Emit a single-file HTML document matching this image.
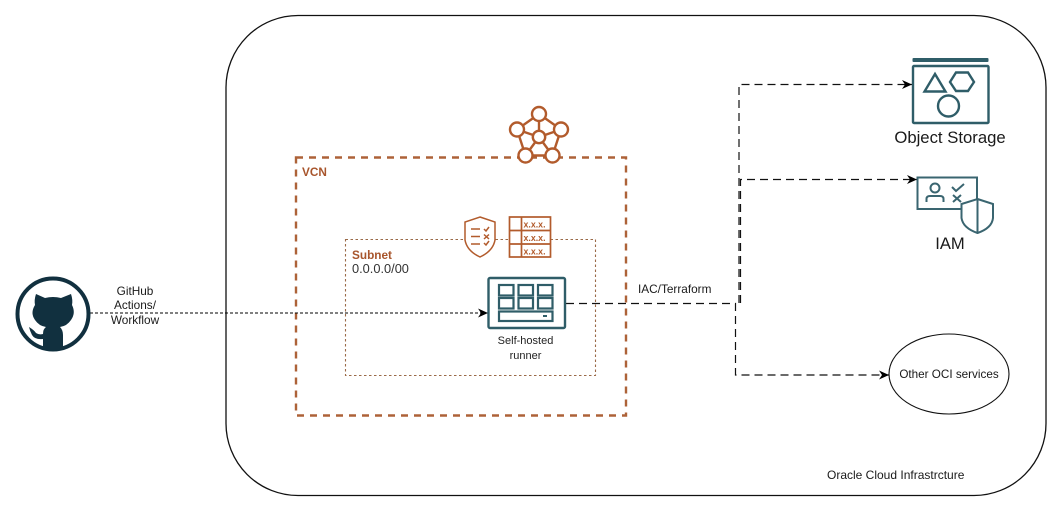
<!DOCTYPE html>
<html>
<head>
<meta charset="utf-8">
<style>
html,body{margin:0;padding:0;background:#fff;}
svg{display:block;}
text{font-family:"Liberation Sans",sans-serif;fill:#1a1a1a;}
</style>
</head>
<body>
<svg width="1061" height="511" viewBox="0 0 1061 511" xmlns="http://www.w3.org/2000/svg">
<defs>
<marker id="arr" markerWidth="12" markerHeight="12" refX="10" refY="6" orient="auto" markerUnits="userSpaceOnUse">
<path d="M0,1.500 L10,6 L0,10.500 L3,6 Z" fill="#000"/>
</marker>
</defs>
<rect width="1061" height="511" fill="#fff"/>

<!-- Outer cloud -->
<rect x="226" y="15.5" width="820" height="480" rx="72" ry="72" fill="none" stroke="#111" stroke-width="1.3"/>

<!-- VCN -->
<rect x="296" y="157.5" width="330" height="258" fill="none" stroke="#ad6238" stroke-width="2.4" stroke-dasharray="7 6"/>
<text x="302" y="176" font-size="11.800" font-weight="bold" style="fill:#a8552c">VCN</text>

<!-- Subnet -->
<rect x="345.5" y="239.5" width="250" height="136" fill="none" stroke="#9a6a48" stroke-width="1.100" stroke-dasharray="2.500 2.500"/>
<text x="352" y="259" font-size="11.800" font-weight="bold" style="fill:#a8552c">Subnet</text>
<text x="352" y="273" font-size="12.800" style="fill:#333">0.0.0.0/00</text>

<!-- VCN icon -->
<g fill="#fff" stroke="#b25b2c" stroke-width="2.400">
<path d="M539,114 L517,129.500 L525.500,155.500 L552.500,155.500 L561,129.500 Z M539,114 L539,137 M517,129.500 L539,137 M561,129.500 L539,137 M525.500,155.500 L539,137 M552.500,155.500 L539,137" fill="none"/>
<circle cx="539" cy="114" r="7"/>
<circle cx="517" cy="129.500" r="7"/>
<circle cx="561" cy="129.500" r="7"/>
<circle cx="525.500" cy="155.500" r="7"/>
<circle cx="552.500" cy="155.500" r="7"/>
<circle cx="539" cy="137" r="6.200"/>
</g>

<!-- Shield icon -->
<g fill="#fff" stroke="#b25b2c" stroke-width="1.500">
<path d="M480,217 L495,222 L495,240 Q493,251 480,257 Q467,251 465,240 L465,222 Z"/>
<path d="M471,229 H480 M471,236.500 H480 M471,244 H480 M484,229 L486,231 L489,227 M484,234.500 L489,239 M489,234.500 L484,239 M484,243 L486,245 L489,241" fill="none"/>
</g>

<!-- Table icon -->
<g fill="#fff" stroke="#b25b2c" stroke-width="1.700">
<rect x="509.500" y="217" width="41" height="40"/>
<path d="M509.500,230.500 H550.500 M509.500,244 H550.500 M521.500,217 V257" fill="none"/>
</g>
<g font-size="8.800" font-weight="bold">
<text x="523.500" y="227.500" style="fill:#b25b2c">x.x.x.</text>
<text x="523.500" y="241" style="fill:#b25b2c">x.x.x.</text>
<text x="523.500" y="254.500" style="fill:#b25b2c">x.x.x.</text>
</g>

<!-- Connectors -->
<path d="M90,313 H488" fill="none" stroke="#000" stroke-width="1.100" stroke-dasharray="3 2" marker-end="url(#arr)"/>
<path d="M566,303.500 H735.500 V375 H889" fill="none" stroke="#111" stroke-width="1.200" stroke-dasharray="8 5" marker-end="url(#arr)"/>
<path d="M739,303 V84.500 H912" fill="none" stroke="#111" stroke-width="1.200" stroke-dasharray="8 5" marker-end="url(#arr)"/>
<path d="M740.500,303 V179.500 H917" fill="none" stroke="#111" stroke-width="1.200" stroke-dasharray="8 5" marker-end="url(#arr)"/>

<!-- GitHub -->
<circle cx="53" cy="314" r="35.500" fill="#fff" stroke="#11303f" stroke-width="4"/>
<path d="M36,294 L45,298 Q53,296 61,298 L71,294 Q73,300 72,305 Q76,313 71,320 Q67,326 60,327 Q63,330 63,335 L63,349 Q53,352 43,349 L43,339 Q35,340 32,335 Q30,331 29,327 Q34,330 36,333 Q39,335 43,334 Q43,329 46,327 Q39,326 35,320 Q30,313 35,305 Q34,300 36,294 Z" fill="#11303f"/>
<text font-size="11.800" text-anchor="middle"><tspan x="135" y="295">GitHub</tspan><tspan x="135" y="309">Actions/</tspan><tspan x="135" y="324">Workflow</tspan></text>

<!-- Runner -->
<g fill="#fff" stroke="#2f5d68" stroke-width="2.200">
<rect x="488.500" y="278" width="76.500" height="50" rx="1.500" stroke-width="2.400"/>
<rect x="499" y="285" width="14.500" height="10.500"/>
<rect x="518.500" y="285" width="14.500" height="10.500"/>
<rect x="538" y="285" width="14.500" height="10.500"/>
<rect x="499" y="298" width="14.500" height="10.500"/>
<rect x="518.500" y="298" width="14.500" height="10.500"/>
<rect x="538" y="298" width="14.500" height="10.500"/>
<rect x="499" y="311.500" width="53.500" height="9.500"/>
</g>
<rect x="543" y="315" width="4" height="2" fill="#2f5d68"/>
<text font-size="11" text-anchor="middle" style="fill:#222"><tspan x="525.500" y="344">Self-hosted</tspan><tspan x="525.500" y="359">runner</tspan></text>

<text x="638" y="293" font-size="11.800">IAC/Terraform</text>

<!-- Object Storage -->
<g fill="none" stroke="#2f5d68" stroke-width="2.400">
<rect x="912.500" y="58" width="76" height="4" fill="#2f5d68" stroke="none" rx="1"/>
<rect x="913" y="66" width="75.500" height="57" rx="1"/>
<path d="M935,74 L924.500,91.500 H945.500 Z"/>
<path d="M950,82 L956,72.500 H968 L974,82 L968,91 H956 Z"/>
<circle cx="948.500" cy="106" r="10.500"/>
</g>
<text x="950" y="143" font-size="16.700" text-anchor="middle">Object Storage</text>

<!-- IAM -->
<g fill="none" stroke="#3a6570" stroke-width="2">
<path d="M977,199 V177.500 H917.500 V209 H961"/>
<circle cx="935" cy="188" r="4.500"/>
<path d="M926.500,202 V199 Q926.500,196 930,196 H940 Q943.500,196 943.500,199 V202"/>
<path d="M952,187 L956,191 L964,184 M953,195 L961,202 M961,195 L953,202"/>
<path d="M977.500,199 L993,204 V218 Q992,228 977.500,233 Q963,228 961.500,218 V204 Z" fill="#fff"/>
<path d="M977.500,199 V233"/>
</g>
<text x="950" y="249" font-size="16.600" text-anchor="middle">IAM</text>

<!-- Other OCI -->
<ellipse cx="949" cy="374" rx="60" ry="40" fill="#fff" stroke="#111" stroke-width="1.100"/>
<text x="949" y="378" font-size="11.700" text-anchor="middle">Other OCI services</text>

<text x="827" y="479" font-size="12">Oracle Cloud Infrastrcture</text>
</svg>
</body>
</html>
